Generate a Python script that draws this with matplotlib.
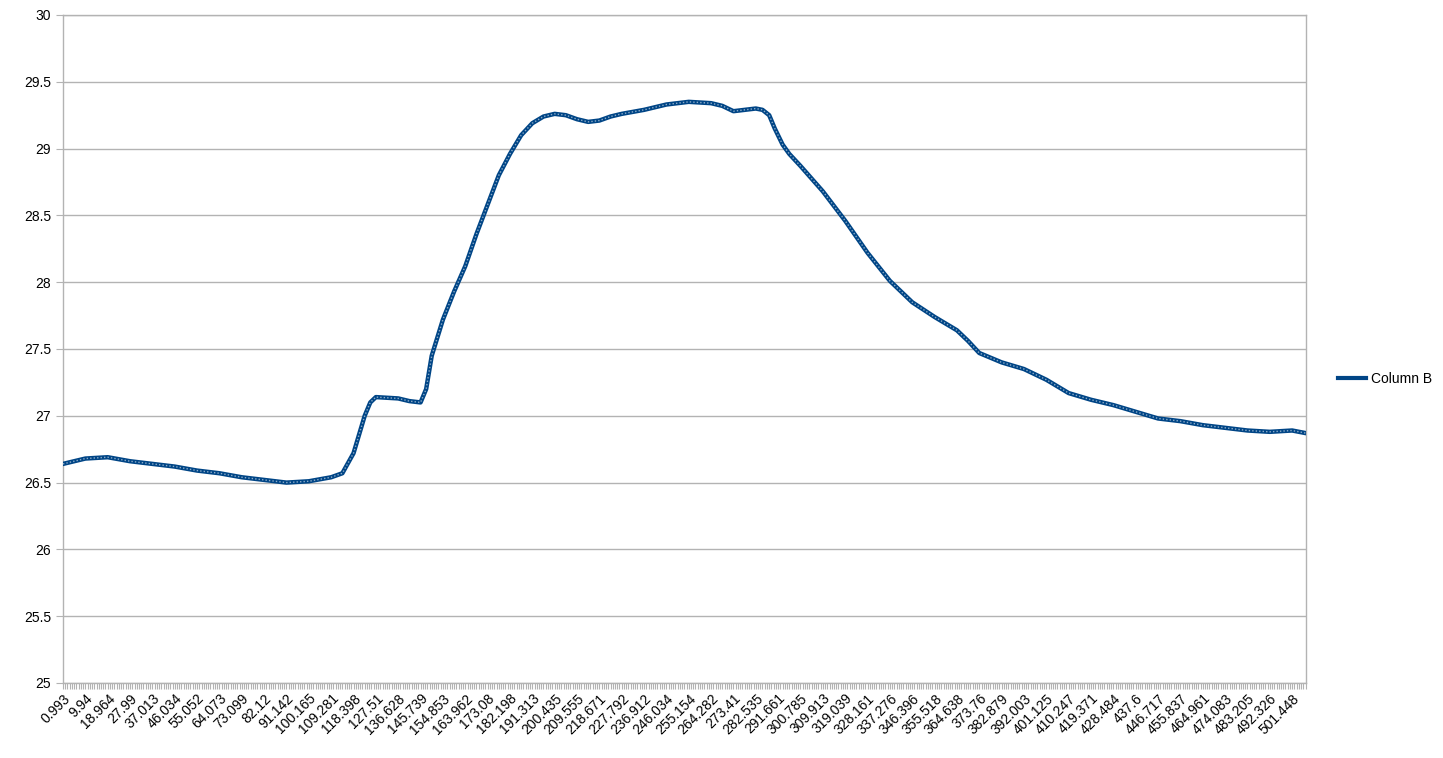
import matplotlib
matplotlib.use("Agg")
import matplotlib.pyplot as plt
from matplotlib.lines import Line2D
import numpy as np

plt.rcParams['font.family'] = ['Liberation Sans', 'DejaVu Sans']

tick_labels = ["0.993", "9.94", "18.964", "27.99", "37.013", "46.034", "55.052", "64.073",
               "73.099", "82.12", "91.142", "100.165", "109.281", "118.398", "127.51",
               "136.628", "145.739", "154.853", "163.962", "173.08", "182.198", "191.313",
               "200.435", "209.555", "218.671", "227.792", "236.912", "246.034", "255.154",
               "264.282", "273.41", "282.535", "291.661", "300.785", "309.913", "319.039",
               "328.161", "337.276", "346.396", "355.518", "364.638", "373.76", "382.879",
               "392.003", "401.125", "410.247", "419.371", "428.484", "437.6", "446.717",
               "455.837", "464.961", "474.083", "483.205", "492.326", "501.448"]

# sample positions in units of label intervals (category axis) and temperature values
pos = [0, 0.5, 1, 2, 3, 4, 5, 6, 7, 8, 9, 10, 11, 12, 12.5, 13, 13.5, 13.75, 14, 15, 15.5,
       16, 16.25, 16.5, 17, 17.5, 18, 18.5, 19, 19.5, 20, 20.5, 21, 21.5, 22, 22.5, 23, 23.5,
       24, 24.5, 25, 26, 27, 28, 29, 29.5, 30, 31, 31.3, 31.6, 31.85, 32.2, 32.5, 33, 34, 35,
       36, 37, 38, 39, 40, 40.5, 41, 42, 43, 44, 45, 46, 47, 48, 49, 50, 51, 52, 53, 54, 55,
       55.62]
temp = [26.64, 26.66, 26.68, 26.69, 26.66, 26.64, 26.62, 26.59, 26.57, 26.54, 26.52, 26.50,
        26.51, 26.54, 26.57, 26.72, 27.00, 27.10, 27.14, 27.13, 27.11,
        27.10, 27.20, 27.45, 27.72, 27.93, 28.12, 28.36, 28.58, 28.80, 28.96, 29.10, 29.19,
        29.24, 29.26, 29.25, 29.22, 29.20, 29.21, 29.24, 29.26, 29.29, 29.33, 29.35, 29.34,
        29.32, 29.28, 29.30, 29.29, 29.25, 29.15, 29.03, 28.96, 28.87, 28.68, 28.46,
        28.22, 28.01, 27.85, 27.74, 27.64, 27.56, 27.47, 27.40, 27.35, 27.27, 27.17, 27.12,
        27.08, 27.03, 26.98, 26.96, 26.93, 26.91, 26.89, 26.88, 26.89, 26.87]

series_name = "Column B"
line_color = "#004586"
grid_color = "#b3b3b3"

fig = plt.figure(figsize=(14.43, 7.58), dpi=100)
ax = fig.add_axes([63 / 1443, 1 - 683 / 758, (1306 - 63) / 1443, (683 - 15) / 758])

ax.plot(pos, temp, color=line_color, lw=3.2, solid_joinstyle='round',
        solid_capstyle='round', zorder=3)
ax.plot(pos, temp, color='white', lw=1.0, alpha=0.55, dashes=(1, 1.5), zorder=4)

ax.set_xlim(0, pos[-1])
ax.set_ylim(25, 30)
ax.set_yticks(np.arange(25, 30.01, 0.5))
ax.set_yticklabels(["25", "25.5", "26", "26.5", "27", "27.5", "28", "28.5", "29", "29.5", "30"])
ax.set_xticks(range(len(tick_labels)))
ax.set_xticklabels(tick_labels, rotation=45, ha='right', rotation_mode='anchor')
ax.set_xticks(np.arange(0, pos[-1], 0.1), minor=True)

ax.yaxis.grid(True, color=grid_color, lw=1)
ax.set_axisbelow(True)
for s in ax.spines.values():
    s.set_color(grid_color)
    s.set_linewidth(1)
ax.tick_params(axis='both', which='both', color=grid_color, length=5, width=0.8,
               labelsize=10, labelcolor='black', direction='out')
ax.tick_params(axis='x', which='both', length=4)
ax.tick_params(axis='x', which='major', pad=2)

handle = Line2D([0], [0], color=line_color, lw=3)
fig.legend([handle], [series_name], loc='center left', bbox_to_anchor=(1338 / 1443, 1 - 379 / 758),
           frameon=False, fontsize=10, handlelength=2.0, handletextpad=0.35, borderpad=0,
           borderaxespad=0)

fig.savefig("out.png", dpi=100)
